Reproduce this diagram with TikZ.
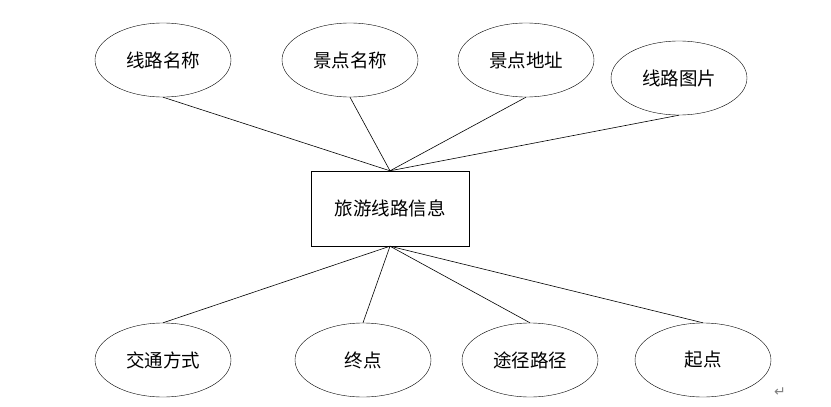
\documentclass[tikz,border=0pt]{standalone}
\usepackage{fontspec}
\newfontfamily\cjk{Noto Sans CJK SC}
\newfontfamily\symfont{DejaVu Sans}
\tikzset{
  attr/.style={draw,ellipse,minimum width=136pt,minimum height=74pt,inner sep=0pt,font=\cjk\fontsize{18.5}{22}\selectfont},
  entity/.style={draw,rectangle,minimum width=158pt,minimum height=75pt,font=\cjk\fontsize{18.5}{22}\selectfont},
  link/.style={line width=0.6pt}
}
\usetikzlibrary{shapes.geometric}
\begin{document}
\begin{tikzpicture}[x=1pt,y=-1pt]
\path[use as bounding box,fill=white] (0,0) rectangle (831,407);
\node[entity] (route) at (390,208.5) {旅游线路信息};
% attributes above
\node[attr] (name) at (163,60) {线路名称};
\node[attr] (spot) at (350,60) {景点名称};
\node[attr] (addr) at (526,60) {景点地址};
\node[attr] (pic) at (679,78) {线路图片};
% attributes below
\node[attr] (traffic) at (163,360) {交通方式};
\node[attr] (dest) at (363,360) {终点};
\node[attr] (via) at (530,360) {途径路径};
\node[attr] (start) at (703,360) {起点};
\draw[link] (name.south) -- (route.north);
\draw[link] (spot.south) -- (route.north);
\draw[link] (addr.south) -- (route.north);
\draw[link] (pic.south) -- (route.north);
\draw[link] (route.south) -- (traffic.north);
\draw[link] (route.south) -- (dest.north);
\draw[link] (route.south) -- (via.north);
\draw[link] (route.south) -- (start.north);
\node[text=gray,font=\symfont\fontsize{14}{16}\selectfont] (mark) at (780,392) {↵};
\end{tikzpicture}
\end{document}
